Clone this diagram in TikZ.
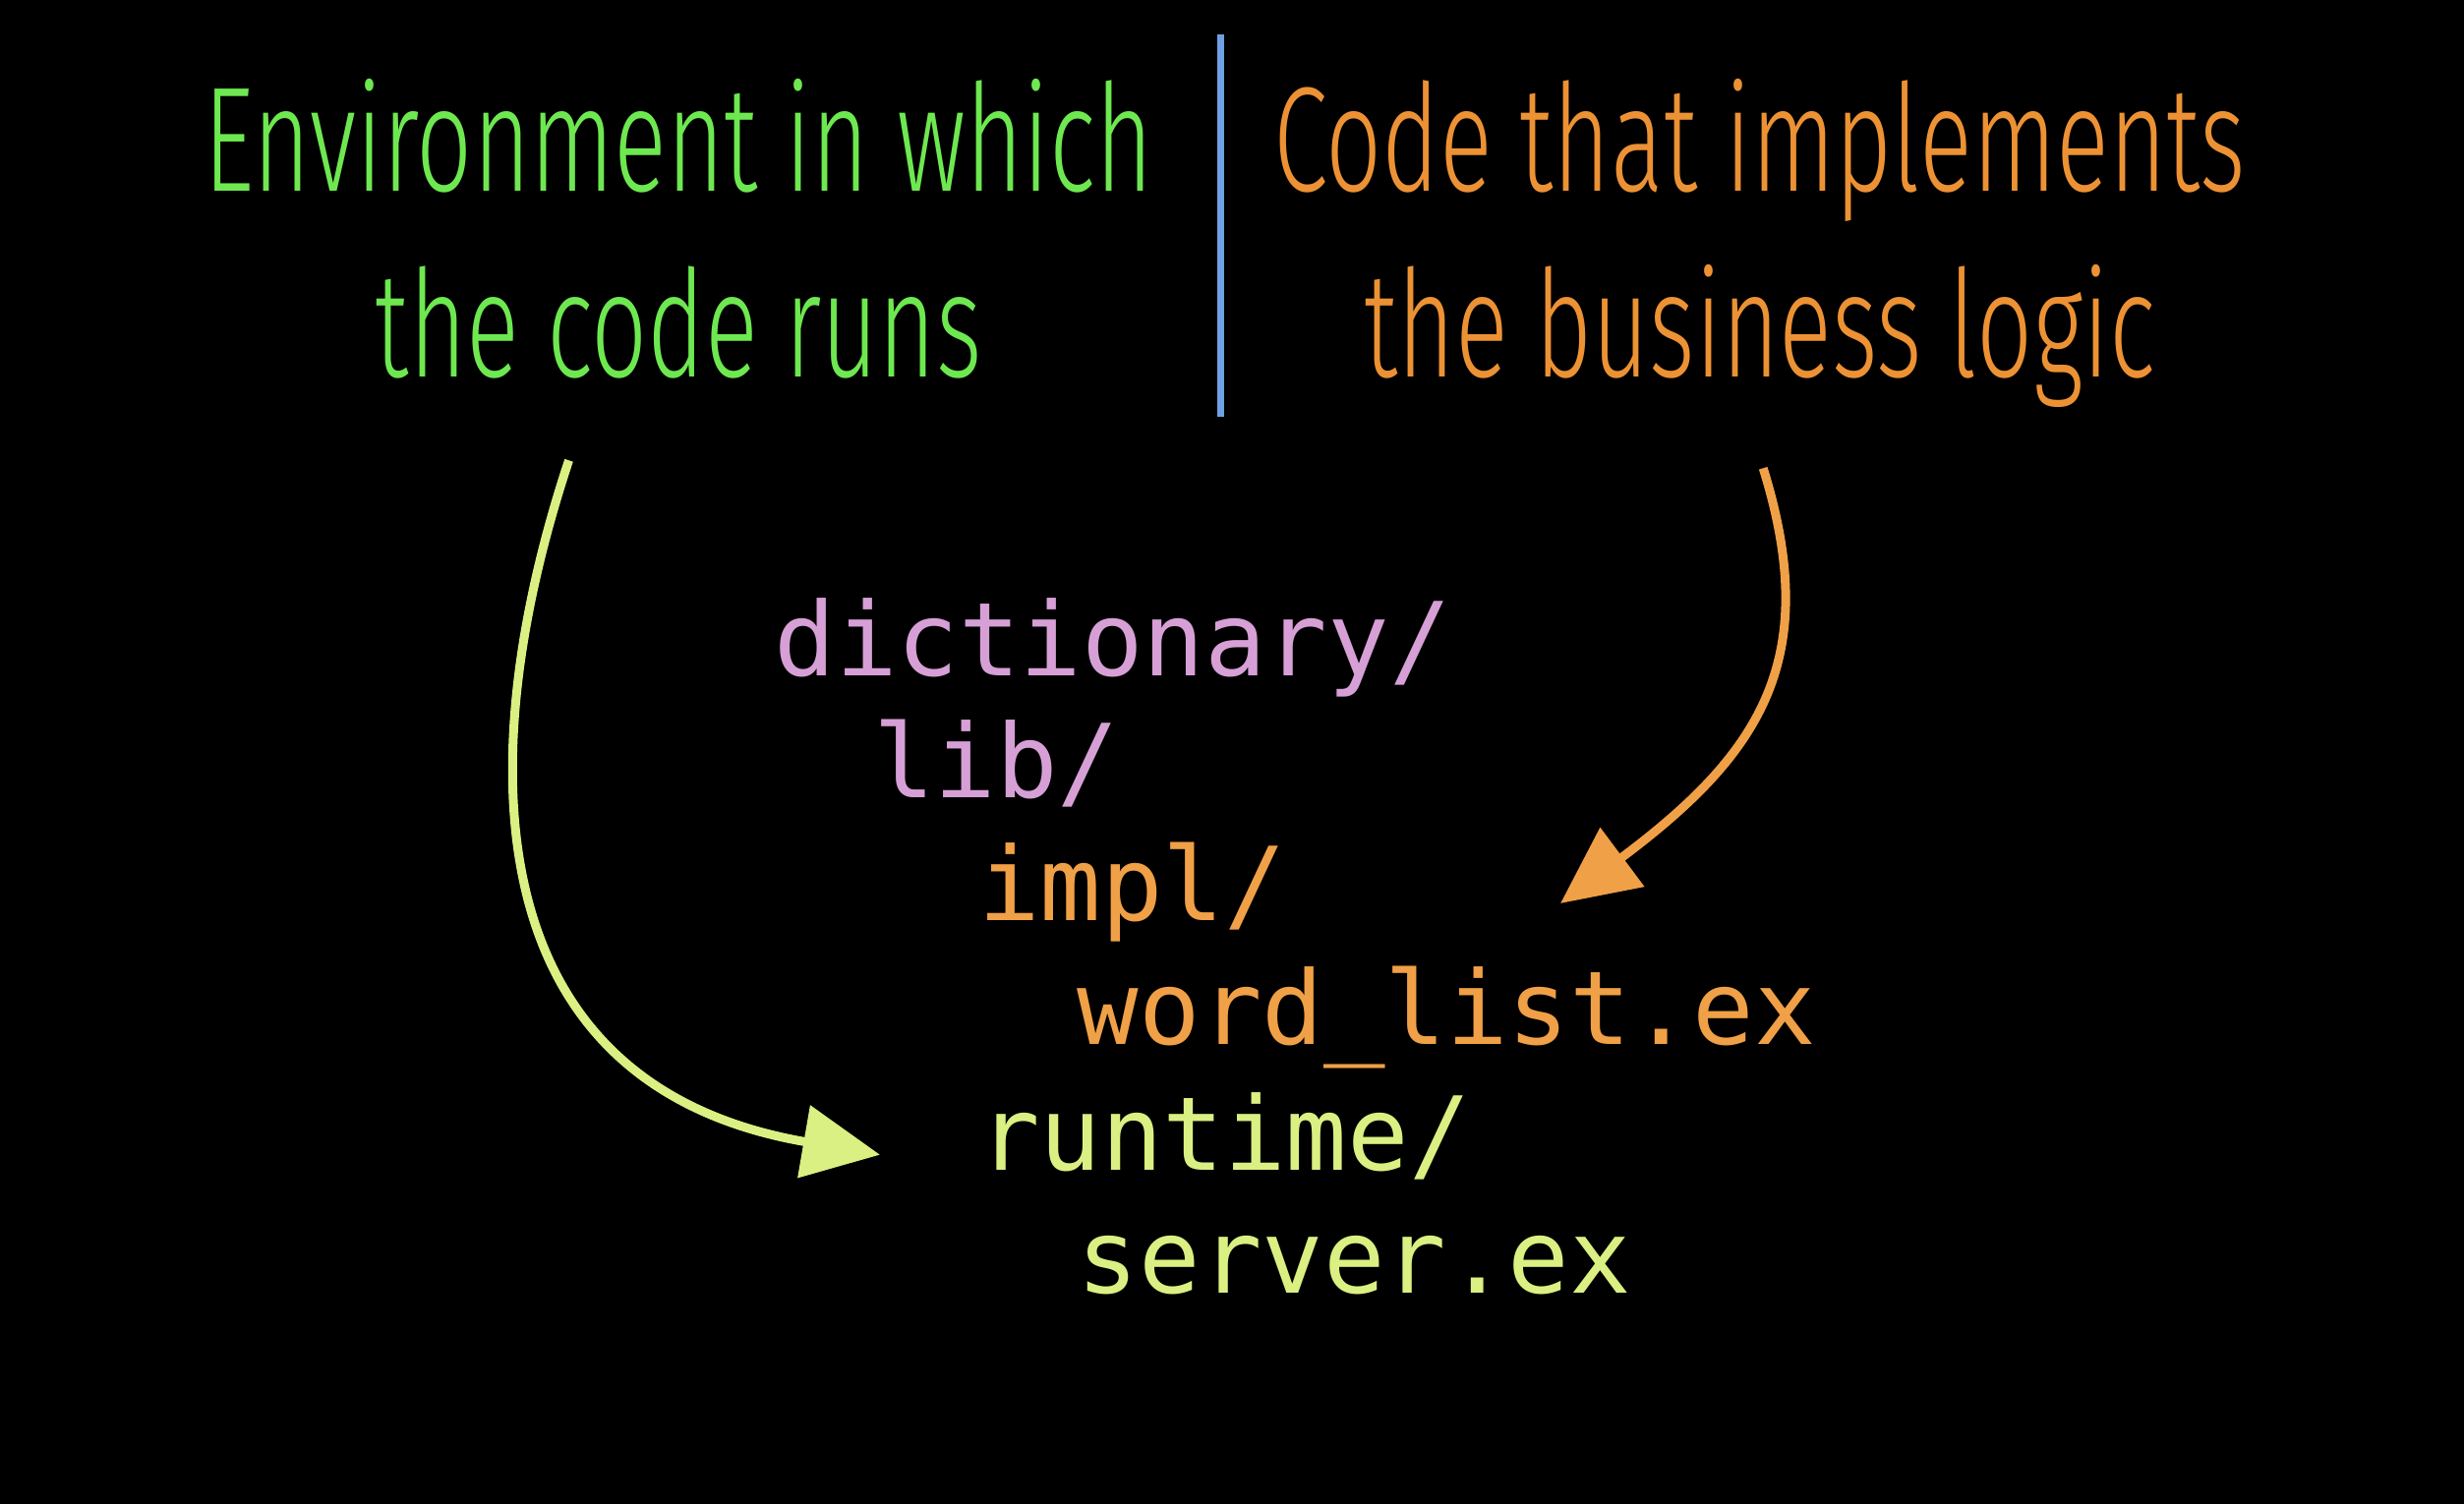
\documentclass[tikz,border=0pt]{standalone}
\usepackage{fontspec}
\setmainfont{Fira Sans}
\newfontfamily\headf[FakeStretch=0.66]{Fira Sans Light}
\newfontfamily\monof{DejaVu Sans Mono}
\usetikzlibrary{arrows.meta}
\definecolor{hgreen}{RGB}{110,232,80}
\definecolor{horange}{RGB}{236,146,52}
\definecolor{cpink}{RGB}{214,160,214}
\definecolor{corange}{RGB}{240,160,70}
\definecolor{cyellow}{RGB}{218,240,130}
\definecolor{vblue}{RGB}{110,160,230}
\tikzset{
 head/.style={font=\headf\fontsize{27}{30}\selectfont, anchor=base},
 code/.style={font=\monof\fontsize{18.5}{20}\selectfont, anchor=base west, inner sep=0pt},
 curvearrow/.style={line width=1.6pt, -{Triangle[length=14pt,width=13pt]}}
}
\begin{document}
\begin{tikzpicture}[x=0.1mm,y=-0.1mm]
\fill[black] (0,0) rectangle (1568,957);
\useasboundingbox (0,0) rectangle (1568,957);
\node[head,text=hgreen] (h1) at (432,122) {Environment in which};
\node[head,text=hgreen] (h2) at (432,240) {the code runs};
\node[head,text=horange] (h3) at (1120,122) {Code that implements};
\node[head,text=horange] (h4) at (1120,240) {the business logic};
\draw[vblue,line width=1.2pt] (777,22) -- (777,265);
\node[code,text=cpink] (d) at (492,430) {dictionary/};
\node[code,text=cpink] (l) at (555,508) {lib/};
\node[code,text=corange] (i) at (622,586) {impl/};
\node[code,text=corange] (w) at (685,665) {word\_list.ex};
\node[code,text=cyellow] (r) at (622,745) {runtime/};
\node[code,text=cyellow] (s) at (685,823) {server.ex};
\coordinate (ys) at (362,293);
\coordinate (ye) at (560,735);
\coordinate (os) at (1122,298);
\coordinate (oe) at (993,575);
\draw[curvearrow,cyellow] (ys) .. controls (300,480) and (300,690) .. (ye);
\draw[curvearrow,corange] (os) .. controls (1160,420) and (1120,480) .. (oe);
\end{tikzpicture}
\end{document}
